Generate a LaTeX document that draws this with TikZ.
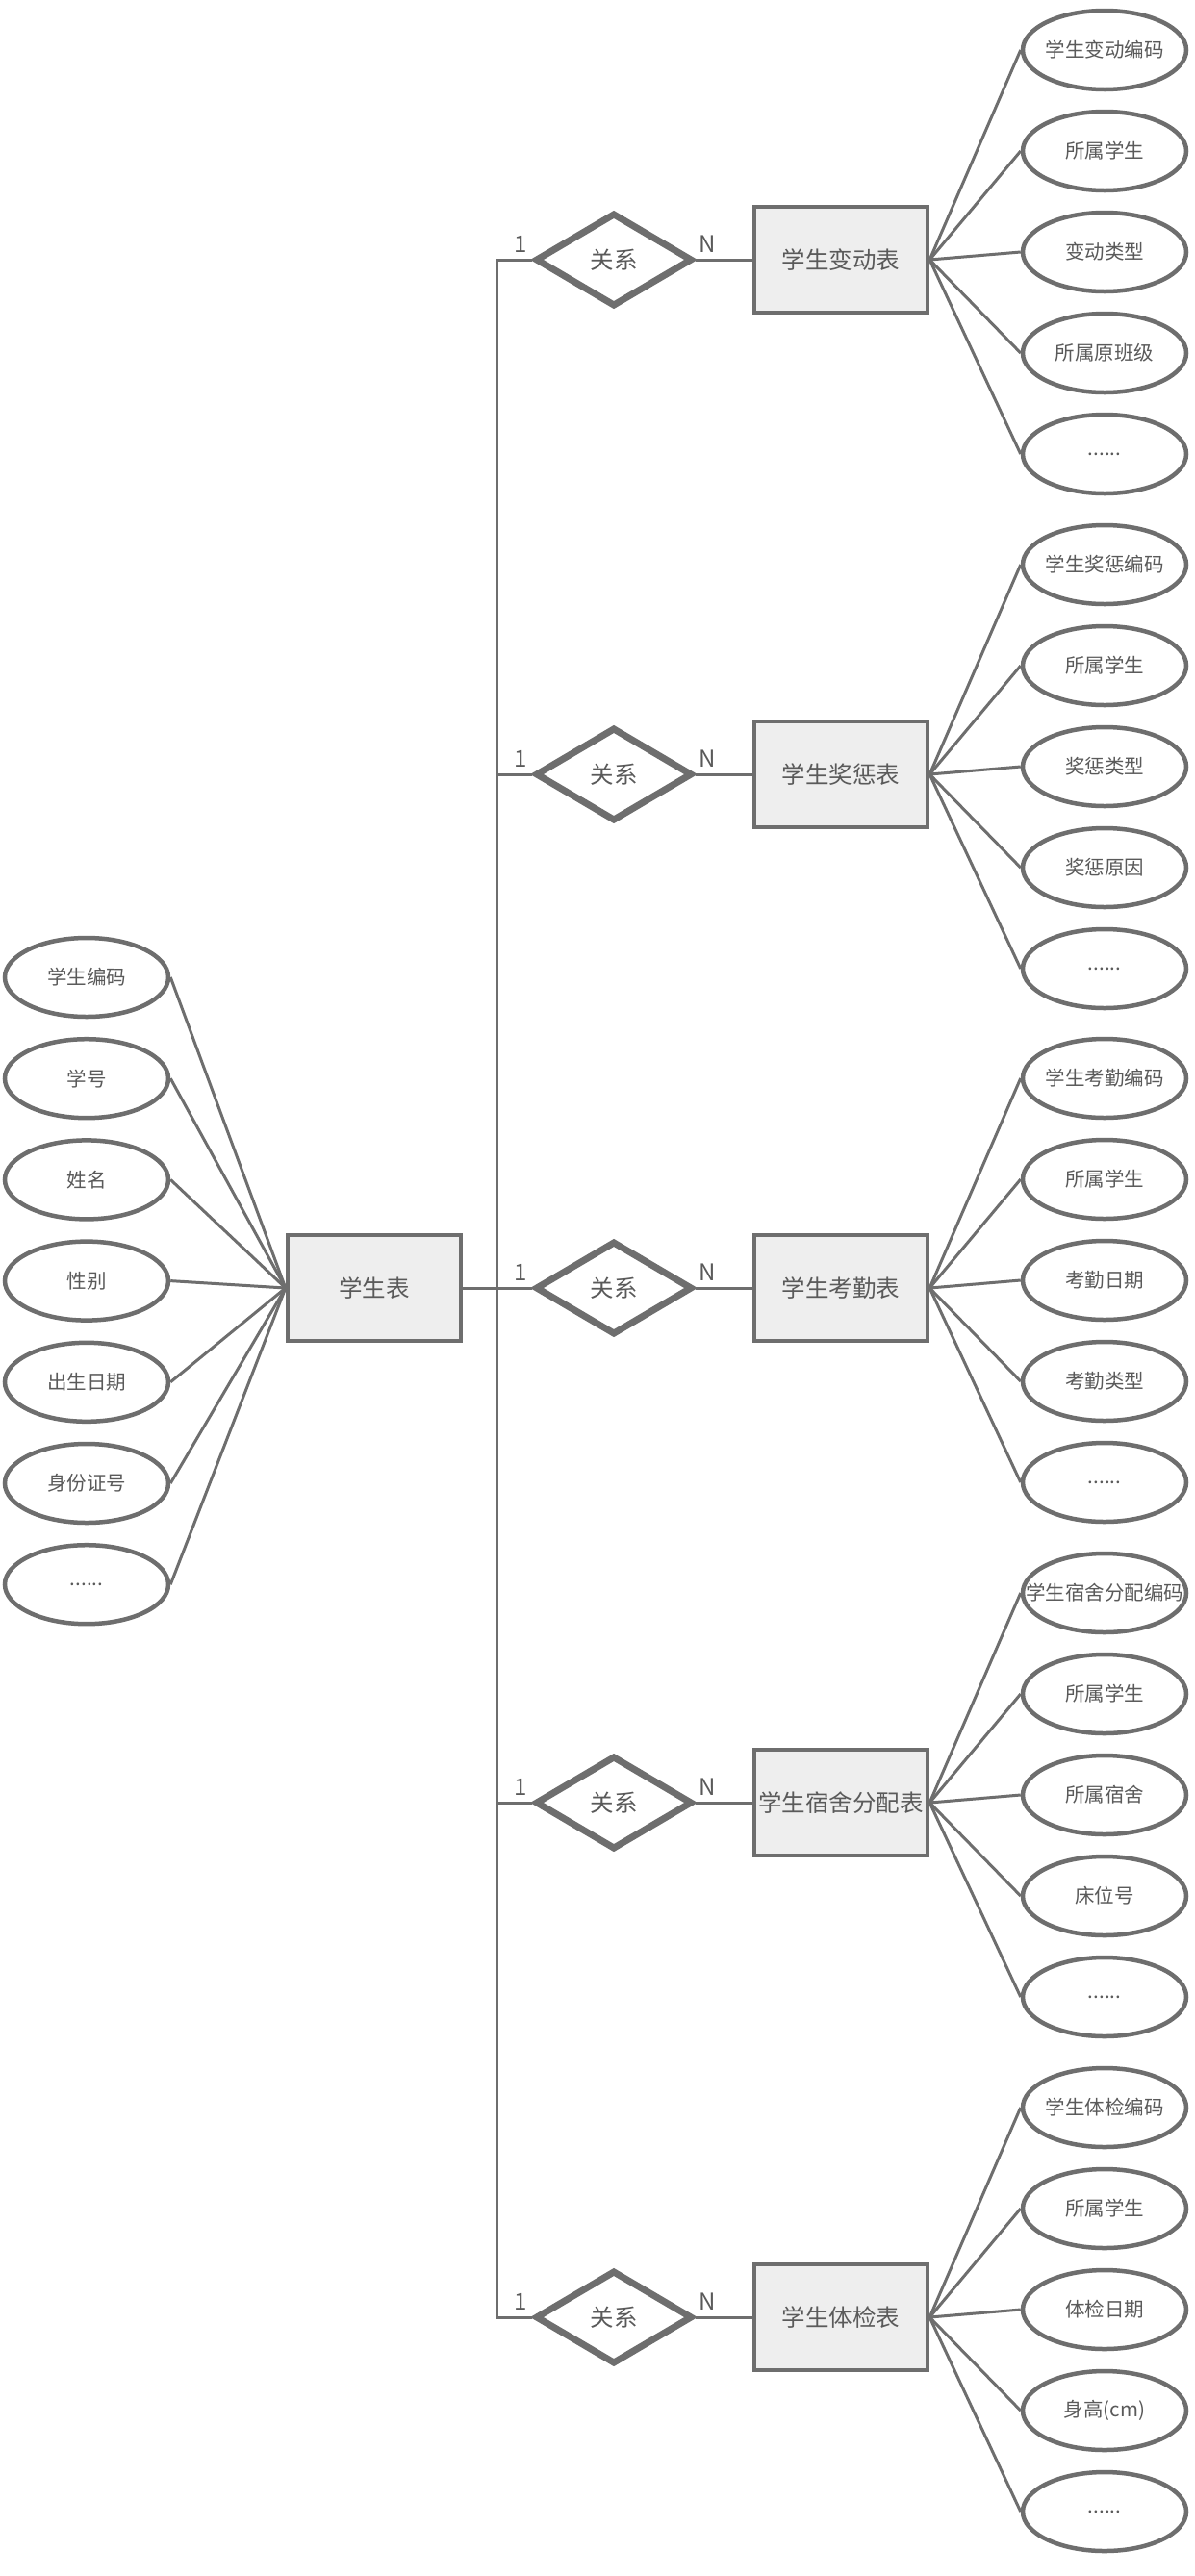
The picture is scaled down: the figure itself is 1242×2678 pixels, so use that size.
\documentclass[tikz,border=0pt]{standalone}
\usepackage{fontspec}
\setmainfont{Noto Sans CJK SC}
\usetikzlibrary{shapes.geometric}
\definecolor{ln}{HTML}{6E6E6E}
\definecolor{tx}{HTML}{5A5A5A}
\definecolor{bx}{HTML}{EEEEEE}
\newcommand{\sixdots}{......}
\tikzset{
  attr/.style={ellipse, draw=ln, line width=4.5pt, fill=white, minimum width=170pt, minimum height=82pt, inner sep=0pt, text=tx, font=\fontsize{20.5}{24}\selectfont},
  ent/.style={rectangle, draw=ln, line width=4.5pt, fill=bx, minimum width=180pt, minimum height=110pt, inner sep=0pt, text=tx, font=\fontsize{24.5}{28}\selectfont},
  rel/.style={diamond, draw=ln, line width=7pt, fill=white, minimum width=163pt, minimum height=97pt, inner sep=0pt, text=tx, font=\fontsize{24.5}{28}\selectfont},
  conn/.style={draw=ln, line width=3pt},
  card/.style={text=tx, inner sep=0pt, font=\fontsize{24}{28}\selectfont}
}
\begin{document}
\begin{tikzpicture}[x=1pt,y=-1pt]
\fill[white] (0,0) rectangle (1242,2678);
\useasboundingbox (0,0) rectangle (1242,2678);
% main entity
\node[ent] (s) at (389,1339) {学生表};
\foreach \k/\t in {0/学生编码,1/学号,2/姓名,3/性别,4/出生日期,5/身份证号,6/\sixdots}{
  \node[attr] (l\k) at (90,1016+105.2*\k) {\makebox[0pt]{\t}};
  \draw[conn] (l\k.east) -- (s.west);
}
\coordinate (j) at (516,1339);
\foreach \r/\y/\e/\a/\b/\c/\d in {
  1/270/学生变动表/学生变动编码/所属学生/变动类型/所属原班级,
  2/805/学生奖惩表/学生奖惩编码/所属学生/奖惩类型/奖惩原因,
  3/1339/学生考勤表/学生考勤编码/所属学生/考勤日期/考勤类型,
  4/1874/学生宿舍分配表/学生宿舍分配编码/所属学生/所属宿舍/床位号,
  5/2409/学生体检表/学生体检编码/所属学生/体检日期/身高(cm)}{
  \node[ent] (e\r) at (874,\y) {\e};
  \node[rel] (d\r) at (638,\y) {关系};
  \draw[conn] (d\r.east) -- (e\r.west);
  \node[card] (one\r) at (541,\y-16) {1};
  \node[card] (n\r) at (735,\y-16) {N};
  \foreach \k/\o/\t in {1/-218/\a,2/-113/\b,3/-8/\c,4/97/\d,5/202/\sixdots}{
    \node[attr] (a\r\k) at (1148,\y+\o) {\makebox[0pt]{\t}};
    \draw[conn] (e\r.east) -- (a\r\k.west);
  }
}
\draw[conn] (d1.west) -| (j);
\draw[conn] (d2.west) -| (j);
\draw[conn] (d4.west) -| (j);
\draw[conn] (d5.west) -| (j);
\draw[conn] (s.east) -- (d3.west);
\end{tikzpicture}
\end{document}
